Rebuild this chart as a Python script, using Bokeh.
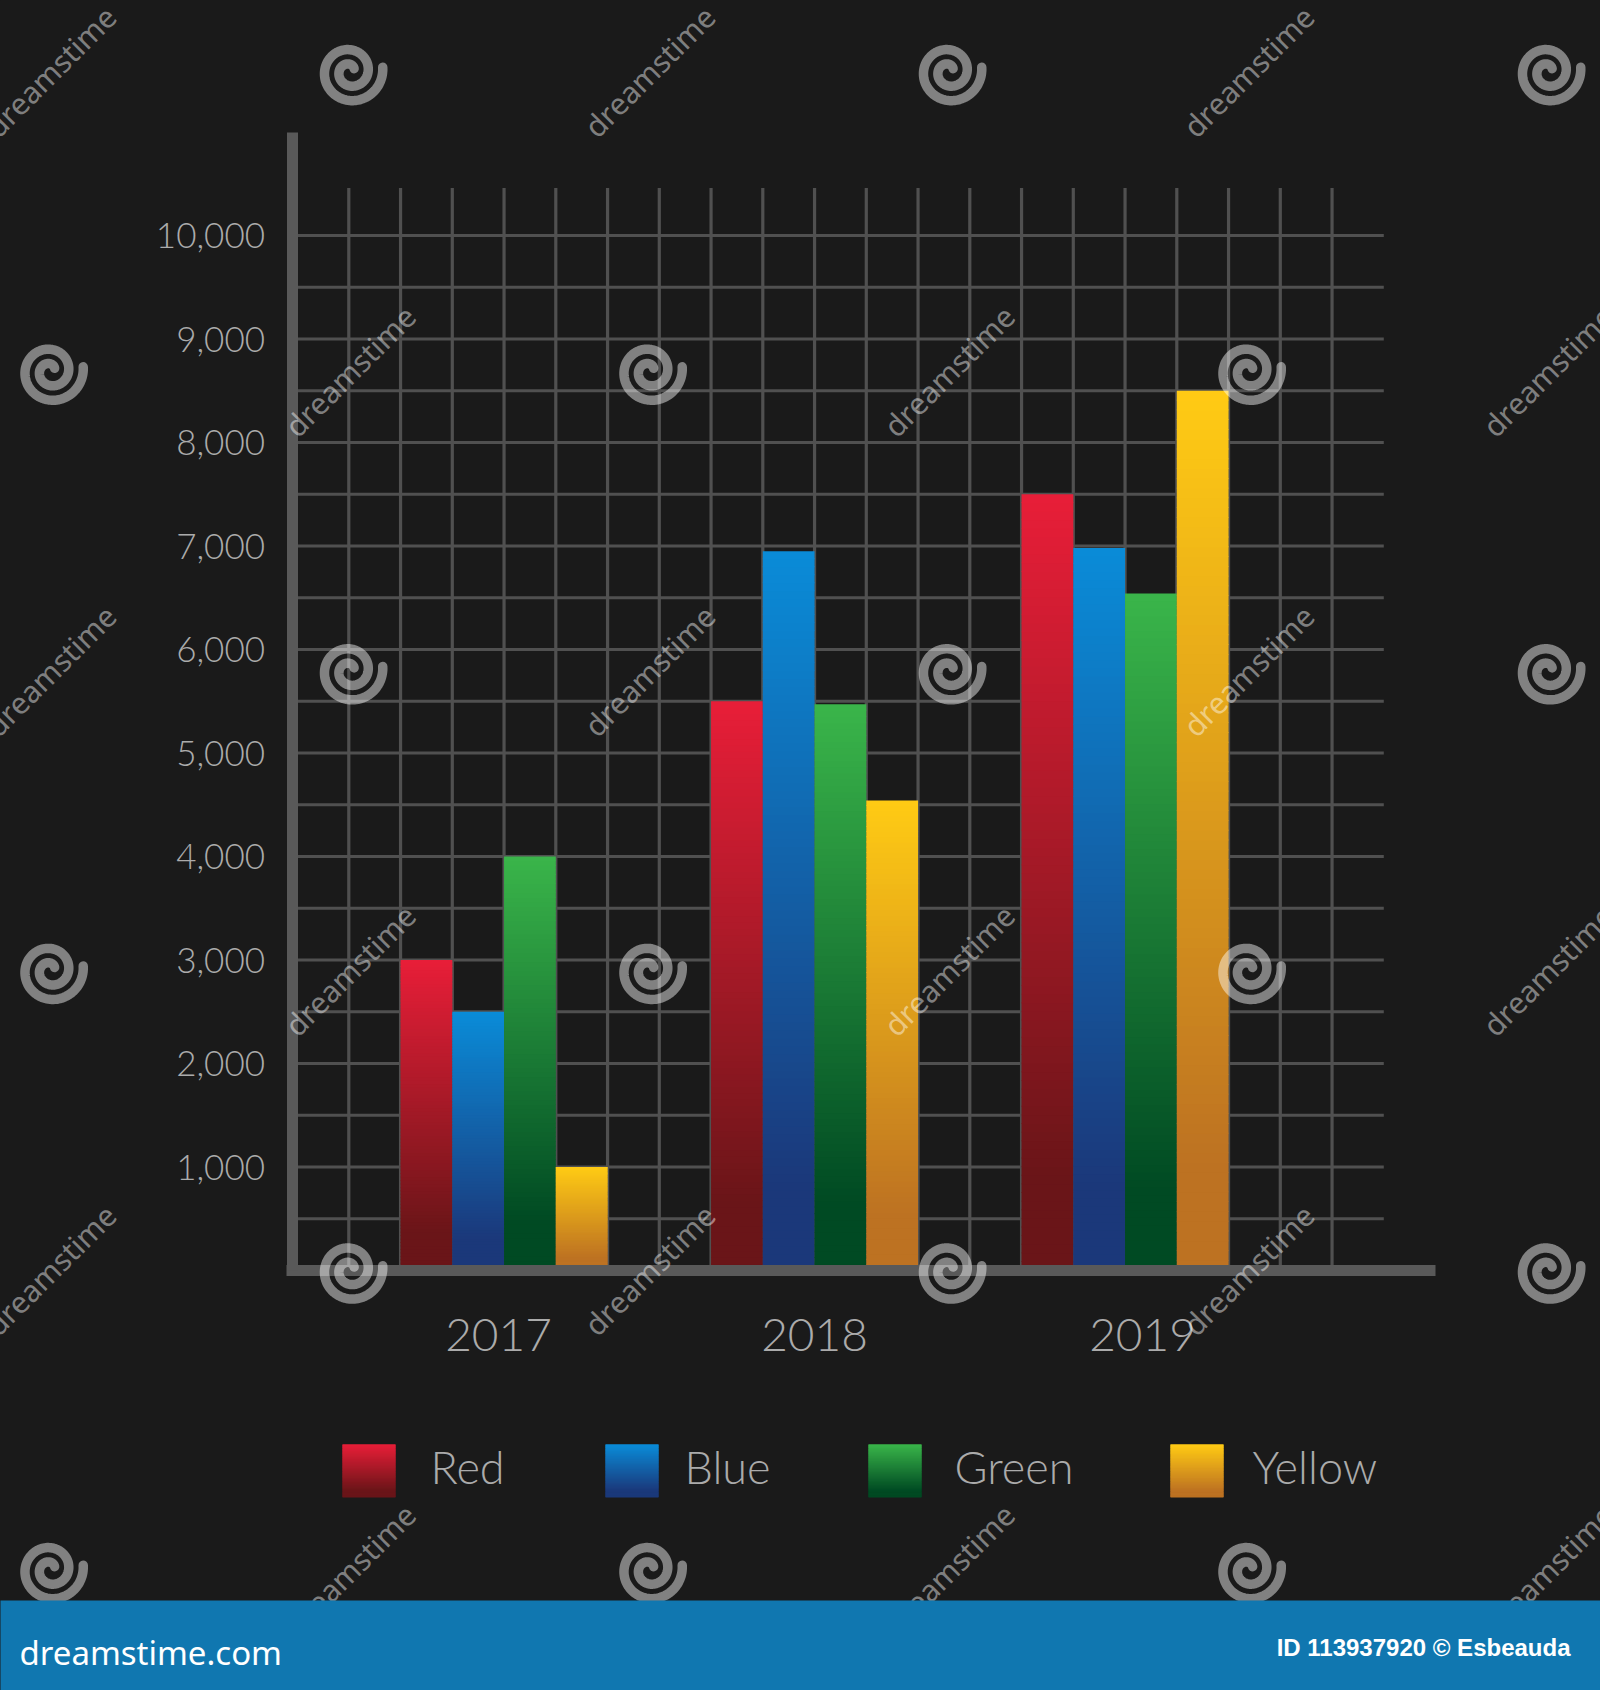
import numpy as np
from bokeh.plotting import figure
from bokeh.models import LinearAxis, FixedTicker, NumeralTickFormatter, Range1d
from bokeh.embed import file_html
from bokeh.resources import INLINE
from bokeh.core.properties import value

# ---------------- data ----------------
years = ["2017", "2018", "2019"]
series_names = ["Red", "Blue", "Green", "Yellow"]
red_values = [3000, 5500, 7500]
blue_values = [2500, 6950, 6980]
green_values = [4000, 5470, 6540]
yellow_values = [1000, 4540, 8500]
y_tick_values = [1000, 2000, 3000, 4000, 5000, 6000, 7000, 8000, 9000, 10000]
grid_step = 500
axis_max = 11000

# ---------------- style ----------------
top_colors = ["#e81e38", "#0a8cd8", "#3ab54a", "#ffcb14"]
bottom_colors = ["#6a1518", "#1b387a", "#004a23", "#bd7222"]
BG = "#1a1a1a"
GRID = "#505050"
AXIS = "#595959"
LABEL = "#ababab"
BANNER = "#1077b0"
THIN_FONT = "Lato Light, Lato"

# ---------------- layout calibration (reference pixels) ----------------
W, H = 1600, 1690
X0 = 348.3      # reference x pixel of first vertical grid line
CELL = 51.75    # pixels per grid cell
Y0 = 1270.0     # reference y pixel of value 0
VPP = grid_step / CELL   # value per pixel


def fx(px):
    return (px - X0) / CELL


def fy(py):
    return (Y0 - py) * VPP


p = figure(width=W, height=H,
           x_range=Range1d(fx(0), fx(W)),
           y_range=Range1d(fy(H), fy(0)),
           x_axis_type=None, y_axis_type=None,
           toolbar_location=None, output_backend="svg",
           min_border=0, background_fill_color=BG, border_fill_color=BG,
           outline_line_color=None)

Y_AXIS_X = fx(291.5)
n_groups = len(years)
n_series = len(series_names)
group_width = n_series + 2
n_vcols = n_groups * group_width + 1   # vertical lines 0..19

# ---------------- grid ----------------
vx = np.arange(0, n_vcols + 1)
p.segment(x0=vx, y0=0, x1=vx, y1=10460, line_color=GRID, line_width=3.2)
hy = np.arange(grid_step, y_tick_values[-1] + 1, grid_step)
p.segment(x0=Y_AXIS_X, y0=hy, x1=n_vcols + 1, y1=hy, line_color=GRID, line_width=3.2)


# ---------------- gradient bars ----------------
def hex2rgb(h):
    h = h.lstrip("#")
    return np.array([int(h[i:i + 2], 16) for i in (0, 2, 4)], dtype=float)


def mix(c1, c2, f):
    a, b = hex2rgb(c1), hex2rgb(c2)
    c = a + (b - a) * f
    return "#%02x%02x%02x" % tuple(int(round(v)) for v in c)


N = 90
values = [red_values, blue_values, green_values, yellow_values]
L, R, B, T, C = [], [], [], [], []
overlap = 0.8 * VPP


def add_gradient_box(left, right, bottom, top, s):
    h = top - bottom
    for k in range(N):
        t_from_top = 1 - (k + 0.5) / N
        f = min(t_from_top / 0.88, 1.0)
        L.append(left)
        R.append(right)
        B.append(bottom + h * k / N)
        T.append(min(bottom + h * (k + 1) / N + overlap, top))
        C.append(mix(top_colors[s], bottom_colors[s], f))


for s in range(n_series):
    for g in range(n_groups):
        left = 1 + group_width * g + s
        add_gradient_box(left, left + 1, 0, values[s][g], s)

# legend swatches
legend_swatch_px = [342, 605, 868, 1170]
legend_text_px = [430, 684, 954, 1252]
for s in range(n_series):
    add_gradient_box(fx(legend_swatch_px[s]), fx(legend_swatch_px[s] + 53), fy(1497), fy(1444), s)

p.quad(left=L, right=R, bottom=B, top=T, fill_color=C, line_color=None)

p.text(x=[fx(v) for v in legend_text_px], y=fy(1466), text=series_names,
       text_font=value(THIN_FONT), text_font_size="45px", text_color=LABEL,
       text_baseline="middle", text_align="left")

# ---------------- axes ----------------
yaxis = LinearAxis(fixed_location=Y_AXIS_X, bounds=(0, axis_max),
                   ticker=FixedTicker(ticks=y_tick_values),
                   formatter=NumeralTickFormatter(format="0,0"),
                   axis_line_color=AXIS, axis_line_width=11,
                   major_tick_in=0, major_tick_out=0,
                   major_tick_line_color=None, minor_tick_line_color=None,
                   major_label_standoff=27,
                   major_label_text_font=THIN_FONT,
                   major_label_text_font_size="35px",
                   major_label_text_color=LABEL)
p.add_layout(yaxis, "left")

# year labels sit where the picture puts them (slightly off the group centres)
year_label_px = [498, 814, 1142]
year_ticks = [round(fx(v), 3) for v in year_label_px]
xaxis = LinearAxis(fixed_location=0, bounds=(Y_AXIS_X - 0.106, n_vcols + 2),
                   ticker=FixedTicker(ticks=year_ticks),
                   major_label_overrides={c: y for c, y in zip(year_ticks, years)},
                   axis_line_color=AXIS, axis_line_width=11,
                   major_tick_in=0, major_tick_out=0,
                   major_tick_line_color=None, minor_tick_line_color=None,
                   major_label_standoff=48,
                   major_label_text_font=THIN_FONT,
                   major_label_text_font_size="46px",
                   major_label_text_color=LABEL)
p.add_layout(xaxis, "below")

# ---------------- watermark ----------------
wm_x, wm_y, sp_xs, sp_ys = [], [], [], []
theta = np.linspace(0, 3.85 * np.pi, 220)
rad = 5 + 28 * theta / (3.85 * np.pi)
for i in range(6):
    for j in range(6):
        cx = 50 + 299.5 * i
        cy = 71 + 299.6 * j
        if (i + j) % 2 == 0:
            wm_x.append(fx(cx))
            wm_y.append(fy(cy))
        else:
            ang = theta + 0.6
            sp_xs.append(list(fx(cx + rad * np.cos(ang))))
            sp_ys.append(list(fy(cy - rad * np.sin(ang))))

p.multi_line(xs=sp_xs, ys=sp_ys, line_color="white", line_alpha=0.45,
             line_width=9.5, line_cap="round", level="overlay")
p.text(x=wm_x, y=wm_y, text=["dreamstime"] * len(wm_x), angle=np.pi / 4,
       text_font=value("Noto Sans"), text_font_size="30px",
       text_color="white", text_alpha=0.45,
       text_align="center", text_baseline="middle", level="overlay")

# ---------------- banner ----------------
p.quad(left=fx(0), right=fx(1600), bottom=fy(1700), top=fy(1600),
       fill_color=BANNER, line_color=None, level="overlay")
p.text(x=[fx(19)], y=[fy(1652)], text=["dreamstime.com"],
       text_font=value("Noto Sans"), text_font_size="33px", text_color="white",
       text_align="left", text_baseline="middle", level="overlay")
p.text(x=[fx(1570)], y=[fy(1647)], text=["ID 113937920 © Esbeauda"],
       text_font=value("Liberation Sans"), text_font_size="24px",
       text_font_style="bold", text_color="white",
       text_align="right", text_baseline="middle", level="overlay")

html = file_html(p, INLINE, title="chart")
html = html.replace("<head>", "<head><style>html,body{background:#1a1a1a;}</style>", 1)
open("out.html", "w").write(html)
